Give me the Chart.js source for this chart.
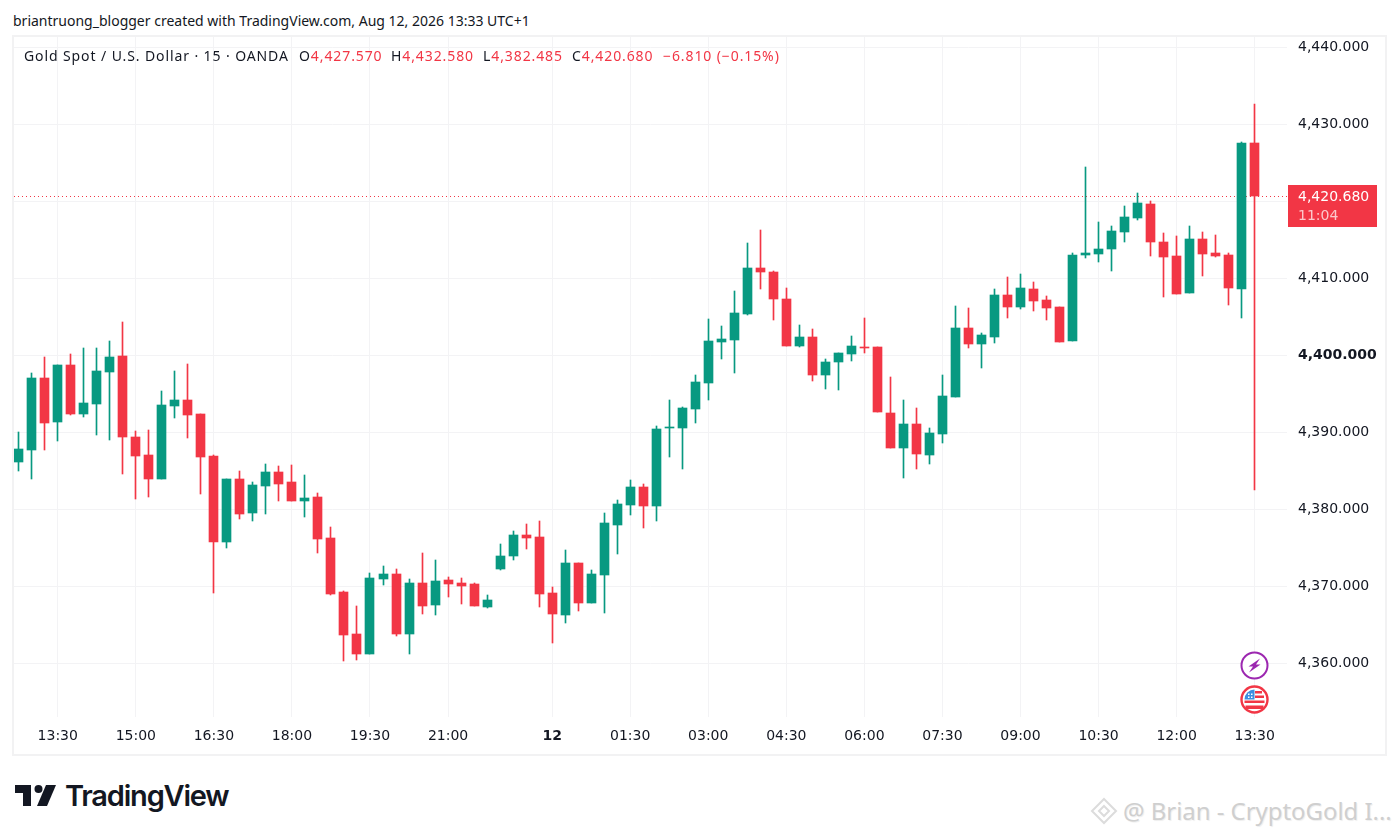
<!DOCTYPE html>
<html>
<head>
<meta charset="utf-8">
<title>Gold Spot / U.S. Dollar</title>
<script src="https://cdn.jsdelivr.net/npm/chart.js@4/dist/chart.umd.min.js"></script>
<style>
  html, body { margin: 0; padding: 0; background: #fff; }
  body { width: 1397px; height: 836px; position: relative; overflow: hidden; font-family: "Noto Sans", sans-serif; color: #131722; }
  .txt { position: absolute; white-space: nowrap; font-size: 14px; line-height: 18px; }
  .leg { letter-spacing: 0.9px; }
  .red { color: #f23645; }
  #frame { position: absolute; left: 12px; top: 35px; width: 1371px; height: 717px; border: 2px solid #f2f2f3; }
  #wrap { position: absolute; left: 14px; top: 37px; width: 1370px; height: 716px; }
  svg { position: absolute; }
  #brand { left: 65px; top: 778px; font: 600 29px/36px Inter, sans-serif; letter-spacing: -1.2px; color: #131722; }
  #mark { left: 1123px; top: 795px; font-size: 24px; line-height: 32px; color: #cfcfcf; letter-spacing: -0.05px; text-shadow: 1px 1px 1px #eeeeee; }
</style>
</head>
<body>
<div id="frame"></div>
<div id="wrap"><canvas id="grafico"></canvas></div>

<div class="txt" style="left:13px;top:12px">briantruong_blogger created with TradingView.com, Aug 12, 2026 13:33 UTC+1</div>
<div class="txt leg" style="left:24px;top:47px">Gold Spot / U.S. Dollar · 15 · OANDA</div>
<div class="txt leg" style="left:299px;top:47px">O<span class="red">4,427.570</span></div>
<div class="txt leg" style="left:391px;top:47px">H<span class="red">4,432.580</span></div>
<div class="txt leg" style="left:483px;top:47px">L<span class="red">4,382.485</span></div>
<div class="txt leg" style="left:572px;top:47px">C<span class="red">4,420.680</span></div>
<div class="txt leg red" style="left:663px;top:47px">−6.810 (−0.15%)</div>

<svg style="left:1240px;top:651px" width="29" height="29" viewBox="0 0 29 29">
  <circle cx="14.5" cy="14.5" r="13" fill="#fff" stroke="#9c27b0" stroke-width="2"/>
  <path d="M20 7.5 L8.5 15.5 H13 L9 21.5 L20.5 13.5 H16 Z" fill="#9c27b0"/>
</svg>
<svg style="left:1240px;top:685px" width="29" height="29" viewBox="0 0 29 29">
  <circle cx="14.5" cy="14.5" r="13" fill="#fff" stroke="#f23645" stroke-width="2.4"/>
  <path d="M15 6 H22 V8.5 H15 Z M15 10.5 H24 V13 H15 Z M4.5 15.5 H24.5 V18 H4.5 Z M5.5 20.5 H23.5 V24 H5.5 Z" fill="#f23645"/>
  <path d="M14.5 4.5 A10 10 0 0 0 4.5 14.5 H14.5 Z" fill="#3d8fe0"/>
  <path d="M8 8.5 H9.5 V10 H8 Z M11 8.5 H12.5 V10 H11 Z M8 11.5 H9.5 V13 H8 Z M11 11.5 H12.5 V13 H11 Z" fill="#fff"/>
</svg>

<svg style="left:15px;top:785px" width="42" height="21" viewBox="0 0 42 21">
  <path d="M0 0 H16 V21 H8 V8 H0 Z" fill="#131722"/>
  <circle cx="23.5" cy="4" r="4" fill="#131722"/>
  <path d="M31 0 H41 L32 21 H22 Z" fill="#131722"/>
</svg>
<div class="txt" id="brand">TradingView</div>

<svg style="left:1090px;top:797px" width="30" height="28" viewBox="0 0 30 28" fill="none" stroke="#dcdcdc" stroke-width="2">
  <path d="M14 2 L26 14 L14 26 L2 14 Z"/>
  <path d="M14 9 L19 14 L14 19 L9 14 Z"/>
</svg>
<div class="txt" id="mark">@ Brian - CryptoGold I...</div>

<script>
const opens = [4386.15,4387.71,4397.06,4391.34,4398.74,4392.38,4393.68,4397.84,4399.91,4389.40,4387.06,4383.94,4393.42,4394.20,4392.38,4386.93,4375.76,4383.94,4379.52,4383.03,4384.85,4383.55,4381.08,4381.60,4376.28,4369.26,4363.81,4361.21,4370.95,4371.60,4363.81,4370.43,4367.58,4370.82,4370.43,4370.30,4367.32,4372.25,4373.94,4376.67,4376.41,4369.13,4366.28,4373.03,4367.84,4371.47,4377.97,4380.56,4382.90,4380.43,4390.56,4390.56,4393.03,4396.41,4401.73,4401.99,4405.37,4411.34,4410.82,4407.32,4401.21,4402.38,4397.45,4399.13,4400.17,4401.08,4401.08,4392.51,4387.97,4391.08,4387.06,4389.78,4394.59,4403.55,4401.47,4402.38,4407.84,4406.28,4408.61,4407.19,4406.28,4401.86,4413.03,4413.16,4413.81,4416.02,4417.84,4419.65,4414.72,4412.90,4408.10,4415.11,4413.29,4413.03,4408.61,4427.57];
const highs = [4390.04,4397.71,4399.78,4398.74,4400.17,4400.95,4400.95,4401.86,4404.33,4390.17,4390.30,4395.37,4397.97,4398.87,4392.38,4387.06,4383.94,4384.98,4383.55,4385.89,4385.63,4385.76,4384.46,4382.12,4377.71,4369.40,4367.45,4371.73,4372.64,4372.25,4370.95,4374.33,4373.42,4371.21,4371.08,4370.43,4368.87,4375.50,4377.19,4378.10,4378.48,4369.91,4374.72,4373.03,4372.12,4379.52,4381.21,4383.81,4383.29,4390.82,4394.20,4393.29,4397.45,4404.72,4403.81,4408.35,4414.59,4416.28,4410.95,4408.74,4403.94,4403.42,4399.52,4400.30,4402.51,4404.85,4401.08,4397.19,4394.20,4393.16,4390.56,4397.45,4406.41,4406.15,4402.90,4408.61,4410.17,4410.56,4409.52,4407.71,4406.28,4413.29,4424.46,4417.32,4416.80,4419.39,4421.08,4420.04,4415.89,4415.50,4416.80,4416.02,4415.63,4413.29,4427.71,4432.58];
const lows = [4384.98,4383.94,4387.71,4388.87,4392.25,4391.99,4389.65,4389.00,4384.59,4381.34,4381.60,4383.94,4391.86,4389.26,4382.00,4369.13,4374.98,4378.74,4378.48,4379.40,4381.08,4381.08,4379.00,4374.33,4368.87,4360.30,4360.43,4361.21,4370.17,4363.55,4361.21,4366.41,4366.28,4368.61,4367.71,4367.45,4367.19,4372.12,4373.42,4374.85,4367.32,4362.64,4365.24,4366.80,4367.84,4366.54,4374.20,4379.26,4377.58,4378.48,4386.80,4385.24,4391.21,4394.20,4399.52,4397.71,4405.24,4408.61,4404.59,4401.21,4401.08,4396.67,4395.63,4395.50,4399.26,4400.30,4392.64,4387.97,4384.07,4385.24,4385.89,4388.61,4394.59,4400.95,4398.35,4401.60,4404.85,4406.02,4405.76,4404.59,4401.73,4401.86,4412.64,4412.12,4410.95,4414.72,4417.58,4412.90,4407.58,4407.97,4408.10,4410.30,4412.77,4406.54,4404.85,4382.485];
const closes = [4387.84,4397.06,4391.21,4398.74,4392.38,4393.81,4397.97,4399.78,4389.40,4386.93,4383.94,4393.55,4394.20,4392.25,4386.80,4375.76,4383.94,4379.40,4383.16,4384.85,4383.29,4381.08,4381.47,4376.15,4369.00,4363.68,4361.21,4371.08,4371.60,4363.81,4370.43,4367.45,4370.69,4370.30,4370.04,4367.45,4368.23,4373.94,4376.67,4376.28,4369.00,4366.41,4373.03,4367.84,4371.60,4378.23,4380.69,4382.90,4380.43,4390.43,4390.69,4393.16,4396.54,4401.86,4402.12,4405.50,4411.34,4410.82,4407.32,4401.21,4402.38,4397.45,4399.13,4400.30,4401.21,4400.95,4392.64,4387.97,4391.08,4387.19,4389.91,4394.72,4403.55,4401.47,4402.64,4407.84,4406.28,4408.74,4407.06,4406.15,4401.73,4413.03,4413.29,4413.81,4416.15,4417.97,4419.78,4414.72,4412.77,4407.97,4415.11,4413.16,4412.90,4408.74,4427.58,4420.68];

const tickIndexes = [3,9,15,21,27,33,41,47,53,59,65,71,77,83,89,95];
const tickLabels = ['13:30','15:00','16:30','18:00','19:30','21:00','12','01:30','03:00','04:30','06:00','07:30','09:00','10:30','12:00','13:30'];
const priceTicks = [4360,4370,4380,4390,4400,4410,4420,4430,4440];

const lastPrice = 4420.68;
const countdown = '11:04';

const VERDE = '#089981';
const VERMELHO = '#f23645';
const GRADE = '#f3f3f5';
const FONTE = '"DejaVu Sans", sans-serif';

const formatarPreco = v => v.toLocaleString('en-US', { minimumFractionDigits: 3, maximumFractionDigits: 3 });
const corDaVela = i => (closes[i] >= opens[i] ? VERDE : VERMELHO);

// arredonda as barras para o pixel, como as velas nítidas do original
const ajustarPixels = {
    id: 'ajustarPixels',
    afterDatasetsUpdate(chart) {
        chart.getSortedVisibleDatasetMetas().forEach(meta => {
            meta.data.forEach(bar => {
                bar.x = Math.floor(bar.x) + 0.5;
                bar.y = Math.round(bar.y);
                bar.base = Math.round(bar.base);
                if (bar.y === bar.base) bar.base = bar.y + 1;
            });
        });
    }
};

// linha pontilhada do último preço
const linhaPreco = {
    id: 'linhaPreco',
    beforeDatasetsDraw(chart) {
        const { ctx, chartArea, scales } = chart;
        const y = Math.floor(scales.y.getPixelForValue(lastPrice)) + 0.5;
        ctx.save();
        ctx.strokeStyle = VERMELHO;
        ctx.setLineDash([1, 3]);
        ctx.beginPath();
        ctx.moveTo(chartArea.left, y);
        ctx.lineTo(chartArea.right, y);
        ctx.stroke();
        ctx.restore();
    },
    afterDraw(chart) {
        const { ctx, chartArea, scales } = chart;
        const y = Math.floor(scales.y.getPixelForValue(lastPrice));
        const x = chartArea.right + 1;
        ctx.save();
        ctx.fillStyle = VERMELHO;
        ctx.fillRect(x, y - 11, 89, 42);
        ctx.textBaseline = 'middle';
        ctx.fillStyle = '#ffffff';
        ctx.font = '14px ' + FONTE;
        ctx.fillText(formatarPreco(lastPrice), x + 10, y + 1);
        ctx.fillStyle = 'rgba(255,255,255,0.72)';
        ctx.fillText(countdown, x + 10, y + 20);
        ctx.restore();
    }
};

new Chart(document.getElementById('grafico'), {
    type: 'bar',
    data: {
        datasets: [
            {
                data: opens.map((o, i) => ({ x: i, y: [o, closes[i]] })),
                backgroundColor: ctx => corDaVela(ctx.dataIndex),
                barThickness: 9,
                grouped: false,
                borderWidth: 0
            },
            {
                data: lows.map((l, i) => ({ x: i, y: [l, highs[i]] })),
                backgroundColor: ctx => corDaVela(ctx.dataIndex),
                barThickness: 1,
                grouped: false,
                borderWidth: 0
            }
        ]
    },
    options: {
        responsive: true,
        maintainAspectRatio: false,
        animation: false,
        events: [],
        layout: { padding: 0 },
        plugins: { legend: { display: false }, tooltip: { enabled: false } },
        scales: {
            x: {
                type: 'linear',
                offset: false,
                min: -0.3624,
                max: 97.483,
                border: { display: false },
                grid: { color: GRADE, offset: false, drawTicks: false },
                afterBuildTicks: scale => { scale.ticks = tickIndexes.map(value => ({ value })); },
                afterFit: scale => {
                    scale.height = 36;
                    scale.paddingLeft = scale.paddingRight = 0;
                },
                ticks: {
                    autoSkip: false,
                    maxRotation: 0,
                    padding: 11,
                    color: '#131722',
                    font: ctx => ({ family: FONTE, size: 14, weight: tickLabels[ctx.index] === '12' ? '700' : '400' }),
                    callback: (value, index) => tickLabels[index]
                }
            },
            y: {
                position: 'right',
                min: 4353.026,
                max: 4441.338,
                border: { display: false },
                grid: { color: GRADE, drawTicks: false },
                afterBuildTicks: scale => { scale.ticks = priceTicks.map(value => ({ value })); },
                afterFit: scale => {
                    scale.width = 97;
                    scale.paddingTop = scale.paddingBottom = 0;
                },
                ticks: {
                    padding: 11,
                    color: '#131722',
                    font: ctx => ({ family: FONTE, size: 14, weight: ctx.tick && ctx.tick.value === 4400 ? '700' : '400' }),
                    callback: value => formatarPreco(value)
                }
            }
        }
    },
    plugins: [ajustarPixels, linhaPreco]
});
</script>
</body>
</html>
